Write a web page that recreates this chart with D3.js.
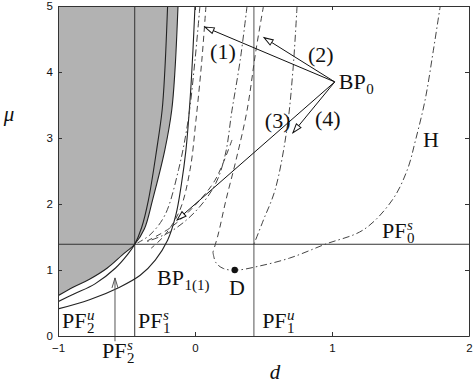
<!DOCTYPE html>
<html>
<head>
<meta charset="utf-8">
<script src="https://cdn.jsdelivr.net/npm/d3@7"></script>
<style>
  body { margin: 0; background: #fff; }
  svg { display: block; }
  .tick text { font-family: "Liberation Sans", Arial, sans-serif; font-size: 11.5px; fill: #111; }
  .lbl { font-family: "Liberation Serif", "Times New Roman", serif; fill: #111; }
</style>
</head>
<body>
<svg id="chart" width="474" height="383"></svg>
<script>
// axis ticks
const xTicks = [-1, 0, 1, 2];
const yTicks = [0, 1, 2, 3, 4, 5];

// solid curves, [d, mu]
const curveA = [[-1, 0.61], [-0.89, 0.74], [-0.77, 0.86], [-0.64, 1.03], [-0.53, 1.23], [-0.44, 1.39],
    [-0.37, 1.62], [-0.31, 2.06], [-0.22, 2.82], [-0.17, 3.42], [-0.146, 4.03], [-0.124, 5.0]];
const curveB = [[-1, 0.52], [-0.88, 0.64], [-0.73, 0.79], [-0.58, 1.03], [-0.49, 1.24], [-0.44, 1.39],
    [-0.39, 1.64], [-0.34, 2.06], [-0.28, 2.82], [-0.24, 3.42], [-0.22, 4.03], [-0.20, 5.0]];
const curveC = [[-1, 0.41], [-0.77, 0.55], [-0.55, 0.74], [-0.40, 0.92], [-0.29, 1.15], [-0.20, 1.45],
    [-0.14, 1.83], [-0.10, 2.29], [-0.066, 2.82], [-0.036, 3.58], [-0.015, 4.33], [0, 5.0]];

// dash-dot curves
const curveD1 = [[0.036, 5.0], [0, 4.18], [-0.05, 3.27], [-0.12, 2.52], [-0.22, 1.83], [-0.33, 1.53], [-0.42, 1.41]];
const curveG = [[0.38, 5.0], [0.33, 4.18], [0.27, 3.42], [0.22, 2.74], [0.146, 2.29], [0, 1.88], [-0.18, 1.58], [-0.365, 1.42]];
const curveE = [[0.745, 5.0], [0.715, 4.03], [0.67, 3.12], [0.584, 2.21], [0.50, 1.76], [0.43, 1.39]];
const curveH = [[0.131, 1.27], [0.153, 1.11], [0.21, 1.02], [0.31, 1.0], [0.47, 1.06], [0.69, 1.18], [0.95, 1.39],
    [1.23, 1.61], [1.44, 2.06], [1.55, 2.52], [1.61, 2.97], [1.68, 3.58], [1.74, 4.33], [1.79, 5.0]];

// dashed curves
const curveD2 = [[0.08, 5.0], [0.05, 4.18], [0.007, 3.27], [-0.036, 2.52], [-0.11, 1.91], [-0.22, 1.53], [-0.32, 1.33]];
const curveF = [[0.50, 5.0], [0.445, 4.33], [0.38, 3.42], [0.30, 2.67], [0.226, 2.06], [0.168, 1.53], [0.131, 1.27]];
const curveF2 = [[0.27, 2.97], [0.146, 2.36], [0, 1.98], [-0.18, 1.64], [-0.35, 1.44]];

// straight fold lines
const pf1s = -0.44, pf1u = 0.43, pf0s = 1.39;

// BP0 and the arrows from it
const bp0 = [1.02, 3.85];
const arrowHeads = [[0.073, 4.68], [0.504, 4.52], [-0.13, 1.76], [0.715, 3.08]];
const pointD = [0.29, 1.0];
const pf2sArrow = [[-0.584, -0.08], [-0.584, 0.88]];

// text labels: [d, mu, main, sub, sup]
const labels = [
    [0.11, 4.20, "(1)", "", ""],
    [0.825, 4.15, "(2)", "", ""],
    [1.05, 3.74, "BP", "0", ""],
    [0.51, 3.15, "(3)", "", ""],
    [0.876, 3.18, "(4)", "", ""],
    [1.664, 2.86, "H", "", ""],
    [1.365, 1.485, "PF", "0", "s"],
    [0.49, 0.12, "PF", "1", "u"],
    [0.248, 0.62, "D", "", ""],
    [-0.277, 0.77, "BP", "1(1)", ""],
    [-0.971, 0.12, "PF", "2", "u"],
    [-0.416, 0.12, "PF", "1", "s"],
    [-0.679, -0.333, "PF", "2", "s"]
];

const svg = d3.select("#chart");
const x = d3.scaleLinear().domain([-1, 2]).range([58, 469]);
const y = d3.scaleLinear().domain([0, 5]).range([336, 6]);

svg.append("defs").append("clipPath").attr("id", "clip")
    .append("rect").attr("x", 58).attr("y", 6).attr("width", 411).attr("height", 330);

svg.select("defs").append("marker")
    .attr("id", "head")
    .attr("viewBox", "-11 -5 13 10")
    .attr("refX", 0).attr("refY", 0)
    .attr("markerWidth", 13).attr("markerHeight", 10)
    .attr("markerUnits", "userSpaceOnUse")
    .attr("orient", "auto")
    .append("path")
    .attr("d", "M-9,-3L0,0L-9,3Z")
    .attr("fill", "#fff").attr("stroke", "#111").attr("stroke-width", 1);

svg.select("defs").append("marker")
    .attr("id", "headGray")
    .attr("viewBox", "-11 -5 13 10")
    .attr("refX", 0).attr("refY", 0)
    .attr("markerWidth", 13).attr("markerHeight", 10)
    .attr("markerUnits", "userSpaceOnUse")
    .attr("orient", "auto")
    .append("path")
    .attr("d", "M-10,-3L0,0L-10,3")
    .attr("fill", "none").attr("stroke", "#555").attr("stroke-width", 1);

const line = d3.line()
    .curve(d3.curveCatmullRom)
    .x(d => x(d[0]))
    .y(d => y(d[1]));

const plot = svg.append("g").attr("clip-path", "url(#clip)");

// gray region above curve A
plot.append("path")
    .attr("d", line(curveA) + "L" + x(-1) + "," + y(5) + "Z")
    .attr("fill", "#b2b2b2");

// straight lines
plot.append("line")
    .attr("x1", x(pf1s)).attr("x2", x(pf1s)).attr("y1", y(0)).attr("y2", y(5))
    .attr("stroke", "#333").attr("stroke-width", 1);
plot.append("line")
    .attr("x1", x(pf1u)).attr("x2", x(pf1u)).attr("y1", y(0)).attr("y2", y(5))
    .attr("stroke", "#555").attr("stroke-width", 1);
plot.append("line")
    .attr("x1", x(-1)).attr("x2", x(2)).attr("y1", y(pf0s)).attr("y2", y(pf0s))
    .attr("stroke", "#333").attr("stroke-width", 1);

const solid = [curveA, curveB, curveC];
const dashDot = [curveD1, curveG, curveE, curveH];
const dashed = [curveD2, curveF, curveF2];

plot.selectAll(".solid")
    .data(solid)
    .enter()
    .append("path")
    .attr("class", "solid")
    .attr("d", line)
    .attr("fill", "none").attr("stroke", "#222").attr("stroke-width", 1.1);

plot.selectAll(".dashdot")
    .data(dashDot)
    .enter()
    .append("path")
    .attr("class", "dashdot")
    .attr("d", line)
    .attr("fill", "none").attr("stroke", "#444").attr("stroke-width", 1)
    .attr("stroke-dasharray", "7,3,1.5,3");

plot.selectAll(".dashed")
    .data(dashed)
    .enter()
    .append("path")
    .attr("class", "dashed")
    .attr("d", line)
    .attr("fill", "none").attr("stroke", "#444").attr("stroke-width", 1)
    .attr("stroke-dasharray", "6,4");

// arrows from BP0
svg.selectAll(".arrow")
    .data(arrowHeads)
    .enter()
    .append("line")
    .attr("class", "arrow")
    .attr("x1", x(bp0[0])).attr("y1", y(bp0[1]))
    .attr("x2", d => x(d[0])).attr("y2", d => y(d[1]))
    .attr("stroke", "#111").attr("stroke-width", 1)
    .attr("marker-end", "url(#head)");

svg.append("line")
    .attr("x1", x(pf2sArrow[0][0])).attr("y1", y(pf2sArrow[0][1]))
    .attr("x2", x(pf2sArrow[1][0])).attr("y2", y(pf2sArrow[1][1]))
    .attr("stroke", "#555").attr("stroke-width", 1)
    .attr("marker-end", "url(#headGray)");

svg.append("circle")
    .attr("cx", x(pointD[0])).attr("cy", y(pointD[1])).attr("r", 3.2)
    .attr("fill", "#111");

// axes with inward ticks on all four sides
const axisColor = "#333";
function styleAxis(g) {
    g.select(".domain").attr("stroke", axisColor);
    g.selectAll(".tick line").attr("stroke", axisColor);
}
const fmt = d3.format("d");
svg.append("g").attr("transform", "translate(0," + y(0) + ")")
    .call(d3.axisBottom(x).tickValues(xTicks).tickFormat(fmt).tickSize(-4).tickPadding(8).tickSizeOuter(0))
    .call(styleAxis);
svg.append("g").attr("transform", "translate(0," + y(5) + ")")
    .call(d3.axisTop(x).tickValues(xTicks).tickSize(-4).tickFormat("").tickSizeOuter(0))
    .call(styleAxis);
svg.append("g").attr("transform", "translate(" + x(-1) + ",0)")
    .call(d3.axisLeft(y).tickValues(yTicks).tickFormat(fmt).tickSize(-4).tickPadding(5).tickSizeOuter(0))
    .call(styleAxis);
svg.append("g").attr("transform", "translate(" + x(2) + ",0)")
    .call(d3.axisRight(y).tickValues(yTicks).tickSize(-4).tickFormat("").tickSizeOuter(0))
    .call(styleAxis);
svg.selectAll(".tick text").attr("font-family", null).attr("font-size", null);

// axis titles
svg.append("text")
    .attr("class", "lbl")
    .attr("x", 9).attr("y", 121)
    .attr("text-anchor", "middle")
    .attr("font-size", "21px").attr("font-style", "italic")
    .text("μ");
svg.append("text")
    .attr("class", "lbl")
    .attr("x", 275).attr("y", 379)
    .attr("text-anchor", "middle")
    .attr("font-size", "21px").attr("font-style", "italic")
    .text("d");

// annotations, one text each; sup and sub stacked with tspans
labels.forEach(l => {
    const t = svg.append("text")
        .attr("class", "lbl")
        .attr("x", x(l[0])).attr("y", y(l[1]))
        .attr("font-size", "22px");
    t.append("tspan").text(l[2]);
    let supW = 0;
    if (l[4]) {
        const sup = t.append("tspan")
            .attr("dx", 0.5).attr("dy", -8)
            .attr("font-size", "15px").attr("font-style", "italic")
            .text(l[4]);
        supW = sup.node().getComputedTextLength() + 0.5;
    }
    if (l[3]) {
        t.append("tspan")
            .attr("dx", l[4] ? -supW + 0.5 : 0.5)
            .attr("dy", l[4] ? 13 : 5)
            .attr("font-size", "15px")
            .text(l[3]);
    }
});
</script>
</body>
</html>
